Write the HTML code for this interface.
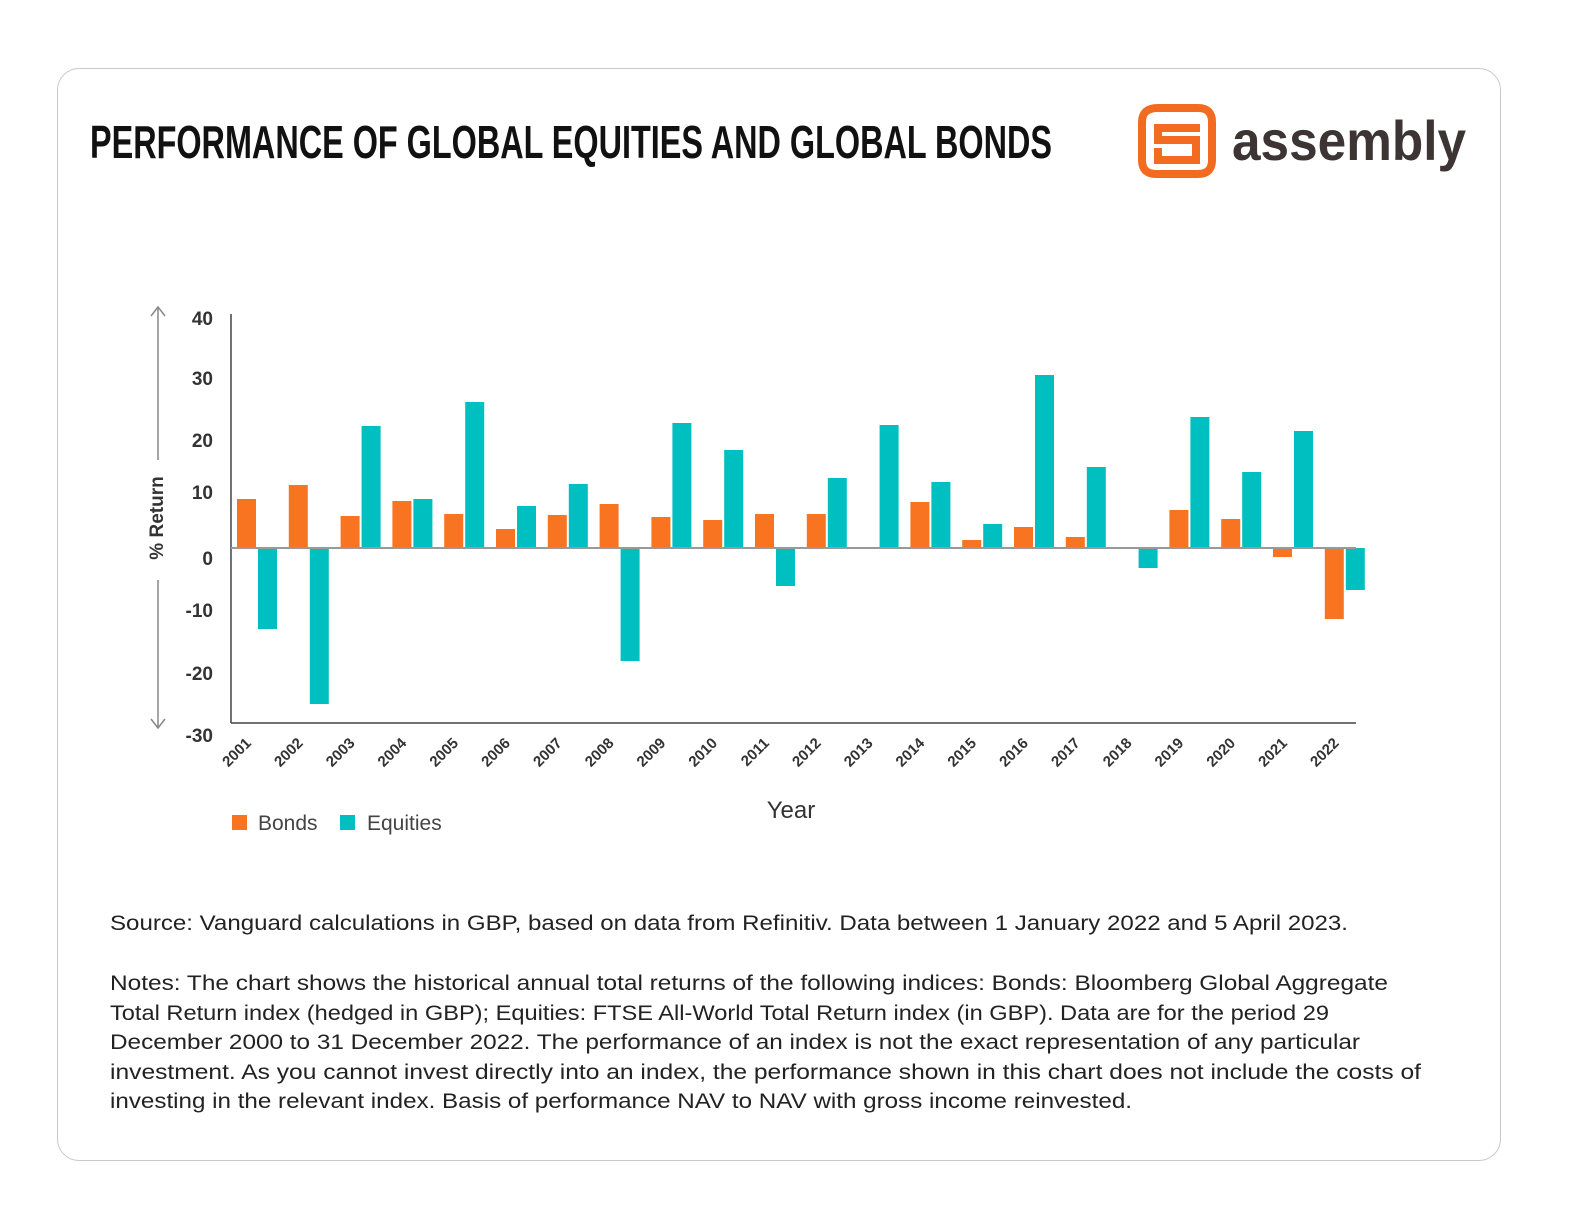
<!DOCTYPE html>
<html><head><meta charset="utf-8"><style>
html,body{margin:0;padding:0;background:#fff;}
body{width:1584px;height:1224px;position:relative;overflow:hidden;font-family:"Liberation Sans",sans-serif;}
.card{position:absolute;left:57px;top:68px;width:1444px;height:1093px;border:1.5px solid #c8c8c8;border-radius:22px;box-sizing:border-box;}
</style></head><body>
<div class="card"></div>
<svg style="position:absolute;left:0;top:0" width="1584" height="1224">
<text x="90" y="158" font-family="Liberation Sans,sans-serif" font-weight="bold" font-size="46" fill="#111" textLength="962" lengthAdjust="spacingAndGlyphs">PERFORMANCE OF GLOBAL EQUITIES AND GLOBAL BONDS</text>
<!-- logo -->
<g fill="none" stroke="#f26b21" stroke-width="8">
<path d="M1158 108 H1198 Q1212 108 1212 122 V160 Q1212 174 1198 174 H1156 Q1142 174 1142 160 V122 Q1142 108 1158 108 Z"/>
<path d="M1200 128 H1158 V140 H1196 V160 H1158 V148"/>
</g>
<text x="1232" y="160" font-family="Liberation Sans,sans-serif" font-weight="bold" font-size="56" fill="#3d3434" textLength="234" lengthAdjust="spacingAndGlyphs">assembly</text>
<!-- axes -->
<line x1="231" y1="314" x2="231" y2="723" stroke="#444" stroke-width="1.5"/>
<line x1="231" y1="723" x2="1356" y2="723" stroke="#444" stroke-width="1.5"/>
<g stroke="#888" stroke-width="1.5" fill="none">
<line x1="158" y1="307" x2="158" y2="460"/><polyline points="151,316 158,307 165,316"/>
<line x1="158" y1="580" x2="158" y2="728"/><polyline points="151,719 158,728 165,719"/>
</g>
<text transform="translate(163,518) rotate(-90)" text-anchor="middle" font-weight="bold" font-size="19" fill="#333">% Return</text>
<g font-weight="bold" font-size="19" fill="#333" text-anchor="end">
<text x="213" y="325">40</text><text x="213" y="385">30</text><text x="213" y="447">20</text><text x="213" y="499">10</text><text x="213" y="565">0</text><text x="213" y="617">-10</text><text x="213" y="680">-20</text><text x="213" y="742">-30</text>
</g>
<g id="bars"></g>
<line x1="231" y1="548" x2="1356" y2="548" stroke="#999" stroke-width="2"/>
<g id="labels" font-weight="bold" font-size="15" fill="#333" text-anchor="end"></g>
<text x="791" y="818" text-anchor="middle" font-size="24" fill="#333">Year</text>
<rect x="232" y="815" width="15" height="15" fill="#f97420"/>
<text x="258" y="830" font-size="21" fill="#444">Bonds</text>
<rect x="340" y="815" width="15" height="15" fill="#00bfc0"/>
<text x="367" y="830" font-size="21" fill="#444">Equities</text>
<g font-size="21" fill="#222" lengthAdjust="spacingAndGlyphs">
<text x="110" y="930" textLength="1238" lengthAdjust="spacingAndGlyphs">Source: Vanguard calculations in GBP, based on data from Refinitiv. Data between 1 January 2022 and 5 April 2023.</text>
<text x="110" y="990" textLength="1278" lengthAdjust="spacingAndGlyphs">Notes: The chart shows the historical annual total returns of the following indices: Bonds: Bloomberg Global Aggregate</text>
<text x="110" y="1020" textLength="1219" lengthAdjust="spacingAndGlyphs">Total Return index (hedged in GBP); Equities: FTSE All-World Total Return index (in GBP). Data are for the period 29</text>
<text x="110" y="1049" textLength="1250" lengthAdjust="spacingAndGlyphs">December 2000 to 31 December 2022. The performance of an index is not the exact representation of any particular</text>
<text x="110" y="1079" textLength="1311" lengthAdjust="spacingAndGlyphs">investment. As you cannot invest directly into an index, the performance shown in this chart does not include the costs of</text>
<text x="110" y="1108" textLength="1022" lengthAdjust="spacingAndGlyphs">investing in the relevant index. Basis of performance NAV to NAV with gross income reinvested.</text>
</g>
</svg>
<script>
var B=[499,485,516,501,514,529,515,504,517,520,514,514,547,502,540,527,537,547,510,519,557,619];
var E=[629,704,426,499,402,506,484,661,423,450,586,478,425,482,524,375,467,568,417,472,431,590];
var ns="http://www.w3.org/2000/svg",g=document.getElementById("bars"),L=document.getElementById("labels");
function r(x,y,c){var t=document.createElementNS(ns,"rect");var y0=Math.min(y,548),h=Math.abs(y-548);t.setAttribute("x",x);t.setAttribute("y",y0);t.setAttribute("width",19);t.setAttribute("height",Math.max(h,1));t.setAttribute("fill",c);g.appendChild(t);}
for(var i=0;i<22;i++){var x=237+51.8*i;r(x,B[i],"#f97420");r(x+21,E[i],"#00bfc0");
var t=document.createElementNS(ns,"text");var lx=x+15,ly=744;t.setAttribute("transform","translate("+lx+","+ly+") rotate(-45)");t.textContent=2001+i;L.appendChild(t);}
</script>
</body></html>
